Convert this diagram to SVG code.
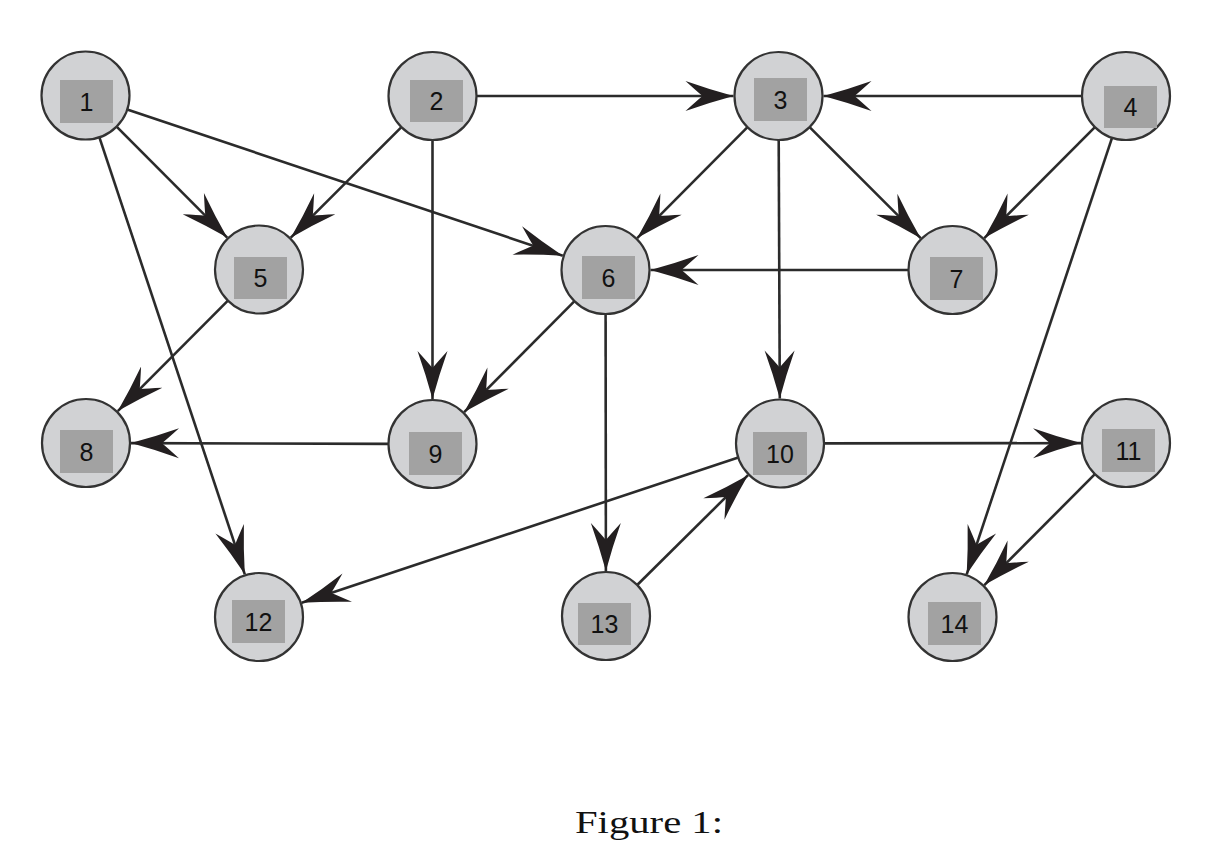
<svg xmlns="http://www.w3.org/2000/svg" width="1216" height="868" viewBox="0 0 1216 868">
<style>
.n circle{fill:#d1d2d4;stroke:#333;stroke-width:2.2}
.n rect{fill:#a2a2a2}
.n text{font-family:"Liberation Sans",Arial,sans-serif;font-size:25px;fill:#111;text-anchor:middle}
#edges line{stroke:#2b2b2b;stroke-width:2.6;marker-end:url(#ah)}
.cap{font-family:"Liberation Serif","Times New Roman",serif;font-size:31px;fill:#111}
</style>
<defs>
<marker id="ah" markerUnits="userSpaceOnUse" refX="0" refY="0" markerWidth="60" markerHeight="40" orient="auto" overflow="visible">
<path d="M0,0 Q-24,-6.5 -48,-15 Q-37,-5 -31,0 Q-37,5 -48,15 Q-24,6.5 0,0 Z" fill="#231f20"/>
</marker>
</defs>
<rect width="1216" height="868" fill="#fff"/>
<g id="edges">
<line x1="116.6" y1="126.7" x2="227.2" y2="237.6"/>
<line x1="127.2" y1="109.5" x2="562.8" y2="255.7"/>
<line x1="99.4" y1="137.3" x2="244.8" y2="574.3"/>
<line x1="476.5" y1="96" x2="733.5" y2="96"/>
<line x1="401.4" y1="127.1" x2="290.8" y2="237.7"/>
<line x1="432.5" y1="140" x2="432.5" y2="399"/>
<line x1="747.5" y1="127.2" x2="637.2" y2="238.1"/>
<line x1="809.6" y1="127.1" x2="920.7" y2="238.2"/>
<line x1="778.7" y1="140" x2="779.8" y2="398.5"/>
<line x1="1082" y1="96" x2="823.5" y2="96"/>
<line x1="1094.9" y1="127.2" x2="984.3" y2="238.1"/>
<line x1="1112.1" y1="137.7" x2="966.7" y2="574.3"/>
<line x1="227.9" y1="300.7" x2="117.8" y2="411.1"/>
<line x1="574.5" y1="301.2" x2="464.2" y2="412.1"/>
<line x1="605.6" y1="314" x2="605.9" y2="571"/>
<line x1="908.5" y1="270" x2="650.5" y2="270"/>
<line x1="388.5" y1="443.9" x2="131" y2="443.1"/>
<line x1="824" y1="443.4" x2="1081" y2="443.1"/>
<line x1="738.3" y1="457.4" x2="301.7" y2="602.8"/>
<line x1="1094.9" y1="474.2" x2="984.3" y2="585.1"/>
<line x1="637.2" y1="585" x2="748" y2="475.2"/>
</g>
<g id="node1" class="n"><circle cx="85.5" cy="95.5" r="44"/><rect x="60" y="80" width="53" height="43"/><text x="86.5" y="110.5">1</text></g>
<g id="node2" class="n"><circle cx="432.5" cy="96" r="44"/><rect x="410" y="80" width="53" height="42"/><text x="436.5" y="110">2</text></g>
<g id="node3" class="n"><circle cx="778.5" cy="96" r="44"/><rect x="754" y="78" width="53" height="43"/><text x="780.5" y="108.5">3</text></g>
<g id="node4" class="n"><circle cx="1126" cy="96" r="44"/><rect x="1104" y="86" width="53" height="42"/><text x="1130.5" y="116">4</text></g>
<g id="node5" class="n"><circle cx="259" cy="269.5" r="44"/><rect x="234" y="257" width="53" height="42"/><text x="260.5" y="287">5</text></g>
<g id="node6" class="n"><circle cx="605.5" cy="270" r="44"/><rect x="582" y="256" width="53" height="43"/><text x="608.5" y="286.5">6</text></g>
<g id="node7" class="n"><circle cx="952.5" cy="270" r="44"/><rect x="930" y="257" width="53" height="43"/><text x="956.5" y="287.5">7</text></g>
<g id="node8" class="n"><circle cx="86" cy="443" r="44"/><rect x="60" y="430" width="53" height="43"/><text x="86.5" y="460.5">8</text></g>
<g id="node9" class="n"><circle cx="432.5" cy="444" r="44"/><rect x="409" y="432" width="53" height="43"/><text x="435.5" y="462.5">9</text></g>
<g id="node10" class="n"><circle cx="780" cy="443.5" r="44"/><rect x="753" y="432" width="54" height="43"/><text x="780" y="462.5">10</text></g>
<g id="node11" class="n"><circle cx="1126" cy="443" r="44"/><rect x="1102" y="429" width="53" height="43"/><text x="1128.5" y="459.5">11</text></g>
<g id="node12" class="n"><circle cx="259" cy="617" r="44"/><rect x="232" y="600" width="53" height="43"/><text x="258.5" y="630.5">12</text></g>
<g id="node13" class="n"><circle cx="606" cy="616" r="44"/><rect x="578" y="603" width="53" height="42"/><text x="604.5" y="633">13</text></g>
<g id="node14" class="n"><circle cx="952.5" cy="617" r="44"/><rect x="928" y="602" width="53" height="43"/><text x="954.5" y="632.5">14</text></g>
<text class="cap" x="575" y="833" textLength="148" lengthAdjust="spacingAndGlyphs">Figure 1:</text>
</svg>
